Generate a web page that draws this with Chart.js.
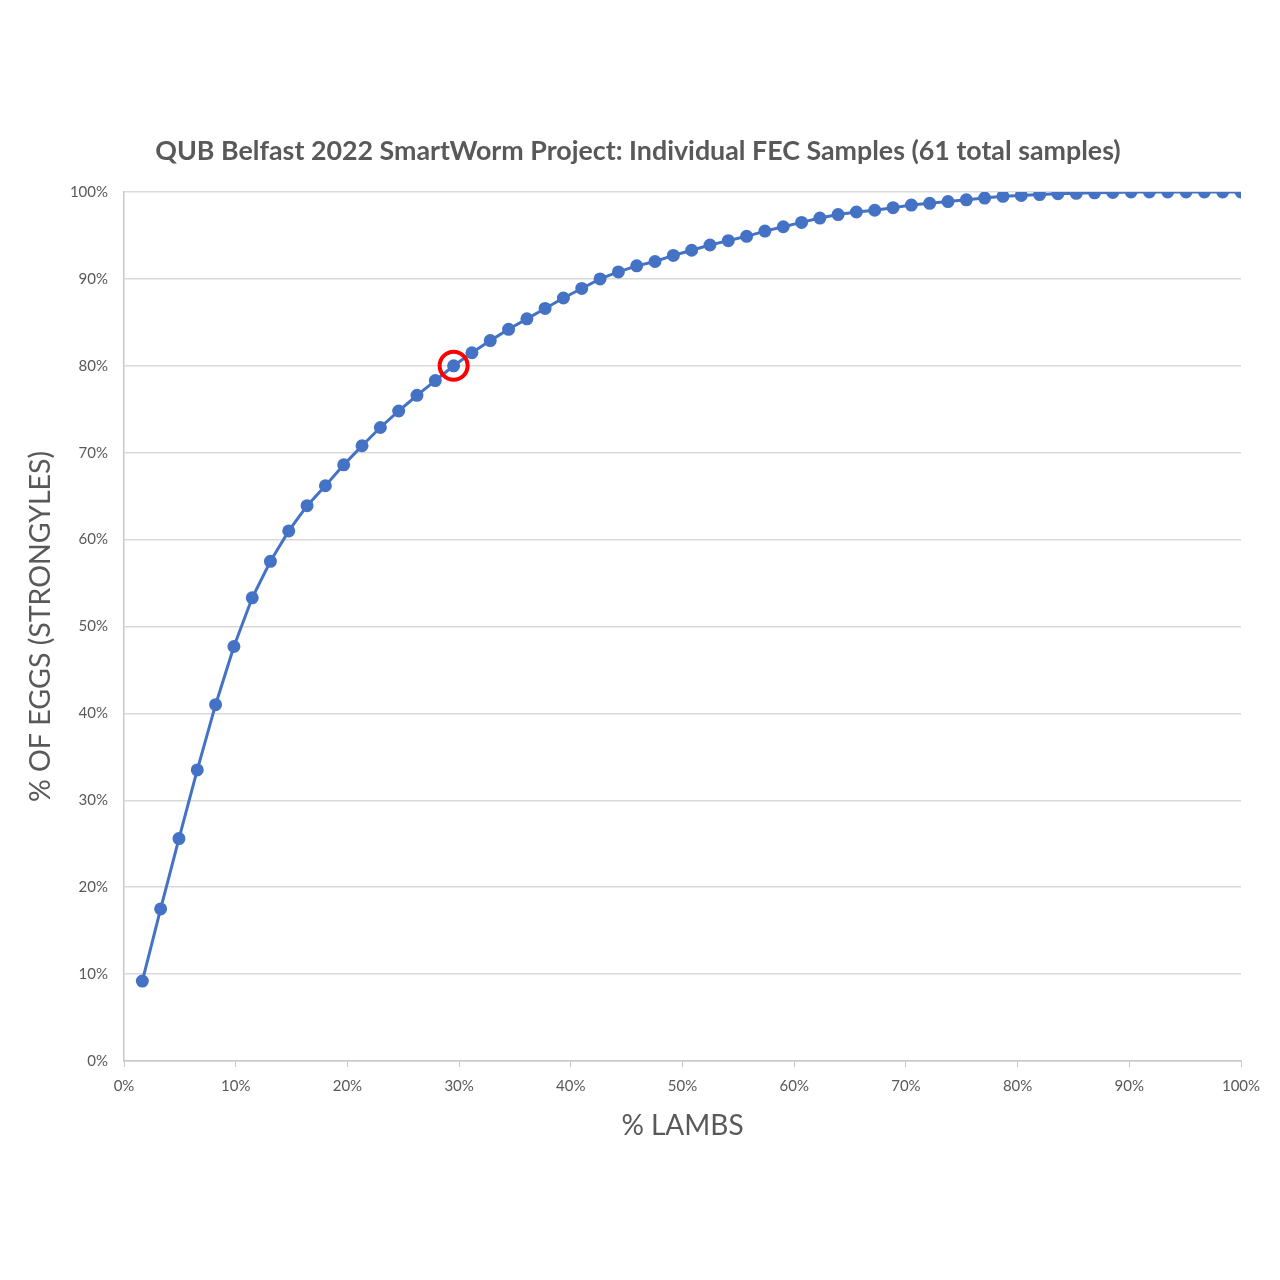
<!DOCTYPE html>
<html lang="en">
<head>
  <meta charset="UTF-8" />
  <title>SmartWorm FEC Samples</title>
  <script src="https://cdn.jsdelivr.net/npm/chart.js"></script>
  <style>
    html, body { margin: 0; padding: 0; background: #fff; }
    #wrap { width: 1280px; height: 1280px; }
  </style>
</head>
<body>
  <div id="wrap"><canvas id="fecChart" width="1280" height="1280"></canvas></div>

  <script>
    // % of lambs (sample i of 61, sorted by egg count)
    const lambPct = [
      1.64, 3.28, 4.92, 6.56, 8.20, 9.84, 11.48, 13.11, 14.75, 16.39,
      18.03, 19.67, 21.31, 22.95, 24.59, 26.23, 27.87, 29.51, 31.15, 32.79,
      34.43, 36.07, 37.70, 39.34, 40.98, 42.62, 44.26, 45.90, 47.54, 49.18,
      50.82, 52.46, 54.10, 55.74, 57.38, 59.02, 60.66, 62.30, 63.93, 65.57,
      67.21, 68.85, 70.49, 72.13, 73.77, 75.41, 77.05, 78.69, 80.33, 81.97,
      83.61, 85.25, 86.89, 88.52, 90.16, 91.80, 93.44, 95.08, 96.72, 98.36, 100
    ];
    // cumulative % of strongyle eggs
    const eggPct = [
      9.2, 17.5, 25.6, 33.5, 41.0, 47.7, 53.3, 57.5, 61.0, 63.9,
      66.2, 68.6, 70.8, 72.9, 74.8, 76.6, 78.3, 80.0, 81.5, 82.9,
      84.2, 85.4, 86.6, 87.8, 88.9, 90.0, 90.8, 91.5, 92.0, 92.7,
      93.3, 93.9, 94.4, 94.9, 95.5, 96.0, 96.5, 97.0, 97.4, 97.7,
      97.9, 98.2, 98.5, 98.7, 98.9, 99.1, 99.3, 99.5, 99.6, 99.7,
      99.8, 99.85, 99.9, 99.95, 100, 100, 100, 100, 100, 100, 100
    ];
    // the point circled in red (~30% of lambs -> 80% of eggs)
    const highlightIdx = 17;

    const chartTitle = 'QUB Belfast 2022 SmartWorm Project: Individual FEC Samples (61 total samples)';
    const grey = '#595959';
    const lineBlue = '#4472c4';

    const points = lambPct.map((x, i) => ({ x: x, y: eggPct[i] }));
    const marked = [{ x: lambPct[highlightIdx], y: eggPct[highlightIdx] }];

    // title centred on the whole canvas, like the original (not on the plot area)
    const pageTitle = {
      id: 'pageTitle',
      afterDraw(chart) {
        const c = chart.ctx;
        c.save();
        c.fillStyle = grey;
        c.font = 'bold 26.8px Lato';
        c.textAlign = 'center';
        c.textBaseline = 'middle';
        c.fillText(chartTitle, chart.width / 2 - 2, 151);
        c.restore();
      }
    };

    const ctx = document.getElementById('fecChart').getContext('2d');
    new Chart(ctx, {
      type: 'line',
      data: {
        datasets: [
          {
            label: 'Highlight',
            data: marked,
            showLine: false,
            pointRadius: 14,
            pointBorderWidth: 4,
            pointBorderColor: '#ff0000',
            pointBackgroundColor: 'rgba(0,0,0,0)'
          },
          {
            label: 'Cumulative eggs',
            data: points,
            borderColor: lineBlue,
            backgroundColor: lineBlue,
            borderWidth: 3,
            pointRadius: 5,
            pointBackgroundColor: lineBlue,
            pointBorderColor: lineBlue,
            tension: 0
          }
        ]
      },
      plugins: [pageTitle],
      options: {
        responsive: false,
        animation: false,
        layout: { padding: { left: 0, right: 39, top: 192, bottom: 119 } },
        plugins: {
          legend: { display: false },
          tooltip: { enabled: false },
          title: { display: false }
        },
        scales: {
          x: {
            type: 'linear',
            min: 0,
            max: 100,
            afterFit: s => { s.height = 100; },
            ticks: {
              stepSize: 10,
              color: grey,
              font: { family: 'Lato', size: 15 },
              padding: 10,
              callback: v => v + '%'
            },
            grid: { display: true, drawOnChartArea: false, drawTicks: true, tickLength: 6, color: '#c8c8c8' },
            border: { color: '#c8c8c8', width: 1.5 },
            title: {
              display: true,
              text: '% LAMBS',
              color: grey,
              font: { family: 'Lato', size: 28 },
              padding: { top: 0, bottom: 18 }
            }
          },
          y: {
            min: 0,
            max: 100,
            afterFit: s => { s.width = 124; },
            ticks: {
              stepSize: 10,
              color: grey,
              font: { family: 'Lato', size: 15 },
              padding: 16,
              callback: v => v + '%'
            },
            grid: { color: '#d9d9d9', lineWidth: 1.5, drawTicks: false },
            border: { color: '#c8c8c8', width: 1.5 },
            title: {
              display: true,
              text: '% OF EGGS (STRONGYLES)',
              color: grey,
              font: { family: 'Lato', size: 28.5 },
              padding: { top: 24, bottom: 4 }
            }
          }
        }
      }
    });
  </script>
</body>
</html>
